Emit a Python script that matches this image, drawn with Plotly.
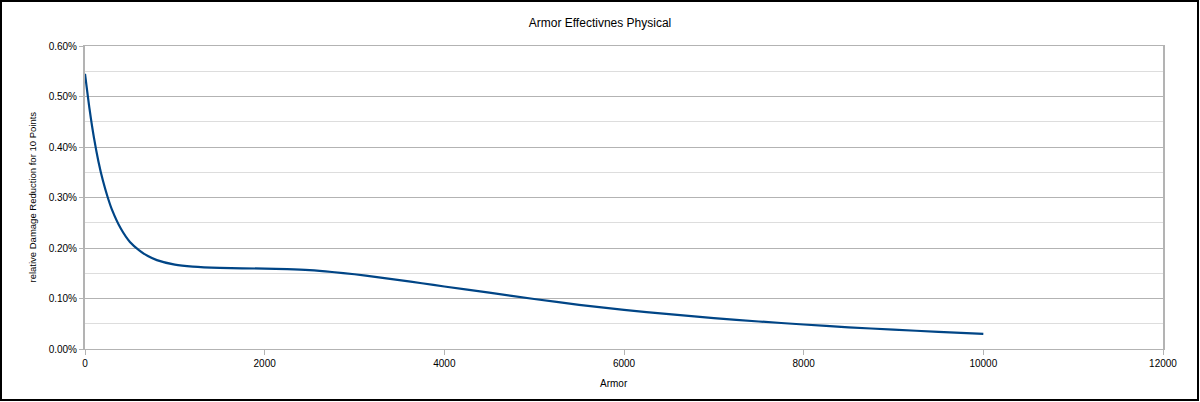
import plotly.graph_objects as go

# Data
armor = [0, 50, 100, 150, 200, 250, 300, 400, 500, 600, 700, 800, 1000, 1200, 1500,
         2000, 2250, 2500, 2750, 3000, 3250, 3500, 3750, 4000, 4500, 5000, 5500, 6000,
         6500, 7000, 7500, 8000, 8500, 9000, 9500, 10000]
reduction_pct = [0.545, 0.476, 0.418, 0.371, 0.333, 0.302, 0.276, 0.238, 0.212, 0.196,
                 0.184, 0.176, 0.167, 0.163, 0.1605,
                 0.1592, 0.1580, 0.1560, 0.1525, 0.1480, 0.1425, 0.1365, 0.1302, 0.1238,
                 0.1115, 0.0990, 0.0875, 0.0775, 0.0690, 0.0612, 0.0545, 0.0485, 0.0430,
                 0.0383, 0.0340, 0.0300]
reduction = [v / 100 for v in reduction_pct]

x_ticks = [0, 2000, 4000, 6000, 8000, 10000, 12000]
y_ticks = [0, 0.001, 0.002, 0.003, 0.004, 0.005, 0.006]

W, H = 1200, 402
L, R, T, B = 85, 37, 46, 53
pw, ph = W - L - R, H - T - B

fig = go.Figure()
fig.add_trace(go.Scatter(
    x=armor, y=reduction, mode="lines",
    line=dict(color="#004586", width=2.2, shape="spline", smoothing=0.6),
    hoverinfo="x+y", showlegend=False,
))

font = "Liberation Sans, Arial, sans-serif"

fig.update_layout(
    width=W, height=H,
    margin=dict(l=L, r=R, t=T, b=B),
    paper_bgcolor="white", plot_bgcolor="white",
    font=dict(family=font, size=10, color="#000000"),
    title=dict(text="Armor Effectivnes Physical", x=0.5, xanchor="center",
               y=1 - 22.5 / H, yanchor="middle", font=dict(size=12, family=font, color="#000")),
    xaxis=dict(
        range=[0, 12000], tickvals=x_ticks, ticktext=[str(v) for v in x_ticks],
        showgrid=False, zeroline=False,
        showline=True, linecolor="#b3b3b3", linewidth=1, mirror=True,
        ticks="outside", ticklen=5, tickcolor="#b3b3b3", tickwidth=1,
        tickfont=dict(size=10, family=font),
    ),
    yaxis=dict(
        range=[0, 0.006], tickvals=y_ticks, tickformat=".2%",
        showgrid=True, gridcolor="#b3b3b3", gridwidth=1,
        zeroline=False,
        showline=True, linecolor="#b3b3b3", linewidth=2, mirror=True,
        ticks="outside", ticklen=4, tickcolor="#b3b3b3", tickwidth=1,
        tickfont=dict(size=10, family=font),
        minor=dict(dtick=0.0005, showgrid=True, gridcolor="#dddddd", gridwidth=1),
    ),
    annotations=[
        dict(text="Armor", xref="paper", yref="paper",
             x=(614 - L) / pw, y=(H - B - 383) / ph, xanchor="center", yanchor="middle",
             showarrow=False, font=dict(size=10, family=font)),
        dict(text="relative Damage Reduction for 10 Points", xref="paper", yref="paper",
             x=(32 - L) / pw, y=0.5, xanchor="center", yanchor="middle", textangle=-90,
             showarrow=False, font=dict(size=9.5, family=font)),
    ],
    shapes=[
        dict(type="rect", xref="paper", yref="paper",
             x0=(1 - L) / pw, x1=(1198 - L) / pw,
             y0=(H - B - 400) / ph, y1=(H - B - 1) / ph,
             line=dict(color="#000000", width=2), fillcolor="rgba(0,0,0,0)", layer="above"),
    ],
)

fig.write_html("out.html")
